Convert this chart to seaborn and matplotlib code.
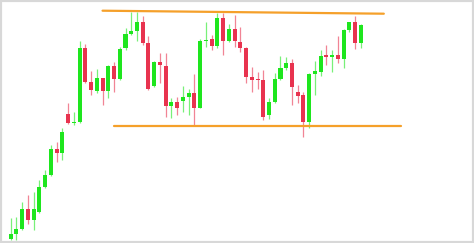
import numpy as np
import pandas as pd
import matplotlib
matplotlib.use("Agg")
import matplotlib.pyplot as plt
from matplotlib.patches import Rectangle
import seaborn as sns

# OHLC values (price units)
opens = [4, 9, 14, 34, 23, 31, 56, 68, 94, 90, 129, 120, 121, 195, 161, 152, 165, 152, 177, 164,
         195, 209, 212, 221, 200, 157, 181, 177, 137, 141, 142, 146, 150, 135, 202, 204, 197, 225, 202, 214,
         201, 195, 166, 164, 163, 128, 141, 164, 175, 180, 151, 148, 121, 169, 171, 188, 186, 188, 184, 213,
         221, 200]
closes = [9, 14, 34, 23, 34, 56, 68, 94, 90, 111, 120, 121, 195, 161, 153, 165, 152, 177, 164, 194,
          209, 212, 221, 200, 154, 181, 178, 137, 141, 135, 146, 150, 135, 202, 203, 197, 225, 202, 214, 202,
          195, 166, 163, 163, 126, 141, 164, 175, 180, 156, 147, 121, 169, 172, 187, 186, 188, 184, 213, 221,
          200, 218]
highs = [25, 26, 41, 48, 51, 63, 73, 98, 101, 115, 140, 131, 202, 199, 172, 174, 165, 178, 181, 196,
         215, 231, 231, 227, 207, 182, 190, 190, 145, 146, 157, 154, 169, 204, 221, 208, 230, 230, 219, 228,
         216, 196, 176, 171, 173, 145, 170, 187, 186, 184, 158, 151, 170, 182, 193, 198, 193, 207, 214, 221,
         227, 219]
lows = [3, 3, 13, 19, 13, 30, 55, 67, 81, 83, 119, 118, 120, 160, 148, 150, 138, 145, 151, 163,
        193, 208, 202, 198, 153, 156, 160, 126, 125, 128, 131, 128, 118, 135, 196, 193, 195, 188, 201, 196,
        191, 160, 151, 154, 123, 124, 140, 163, 173, 138, 140, 106, 115, 148, 167, 178, 171, 180, 175, 211,
        194, 195]

# Resistance / support lines (candle index, price)
top_line_x = [16.0, 65.0]
top_line_y = [232.3, 229.3]
bot_line_x = [18.0, 68.0]
bot_line_y = [117.0, 117.0]

GREEN = "#1ee61e"
RED = "#e8334f"
ORANGE = "#f5a02a"

sns.set_theme(style="white")

df = pd.DataFrame({"open": opens, "close": closes, "high": highs, "low": lows})
df["idx"] = np.arange(len(df))
df["up"] = df["close"] >= df["open"]
df["color"] = np.where(df["up"], GREEN, RED)

fig = plt.figure(figsize=(4.74, 2.43), dpi=100)
ax = fig.add_axes([0, 0, 1, 1])

# wicks
ax.vlines(df["idx"], df["low"], df["high"], colors=df["color"], linewidth=0.9, alpha=0.6, zorder=2)
# bodies
body_bottom = np.minimum(df["open"], df["close"])
body_height = np.maximum(np.abs(df["close"] - df["open"]), 1.0)
ax.bar(df["idx"], body_height, bottom=body_bottom, width=0.7, color=df["color"], linewidth=0, zorder=3)

# trend lines
lines = pd.concat([
    pd.DataFrame({"x": top_line_x, "y": top_line_y, "line": "top"}),
    pd.DataFrame({"x": bot_line_x, "y": bot_line_y, "line": "bottom"}),
])
sns.lineplot(data=lines, x="x", y="y", units="line", estimator=None, color=ORANGE,
             linewidth=1.6, ax=ax, legend=False, zorder=4)

ax.set_xlim(-1.864, 80.71)
ax.set_ylim(0, 243)
ax.axis("off")

fig.patches.append(Rectangle((0, 0), 1, 1, transform=fig.transFigure, fill=False,
                             edgecolor="#d8d8d8", linewidth=3, zorder=10))

fig.savefig("out.png", dpi=100, facecolor="white")
